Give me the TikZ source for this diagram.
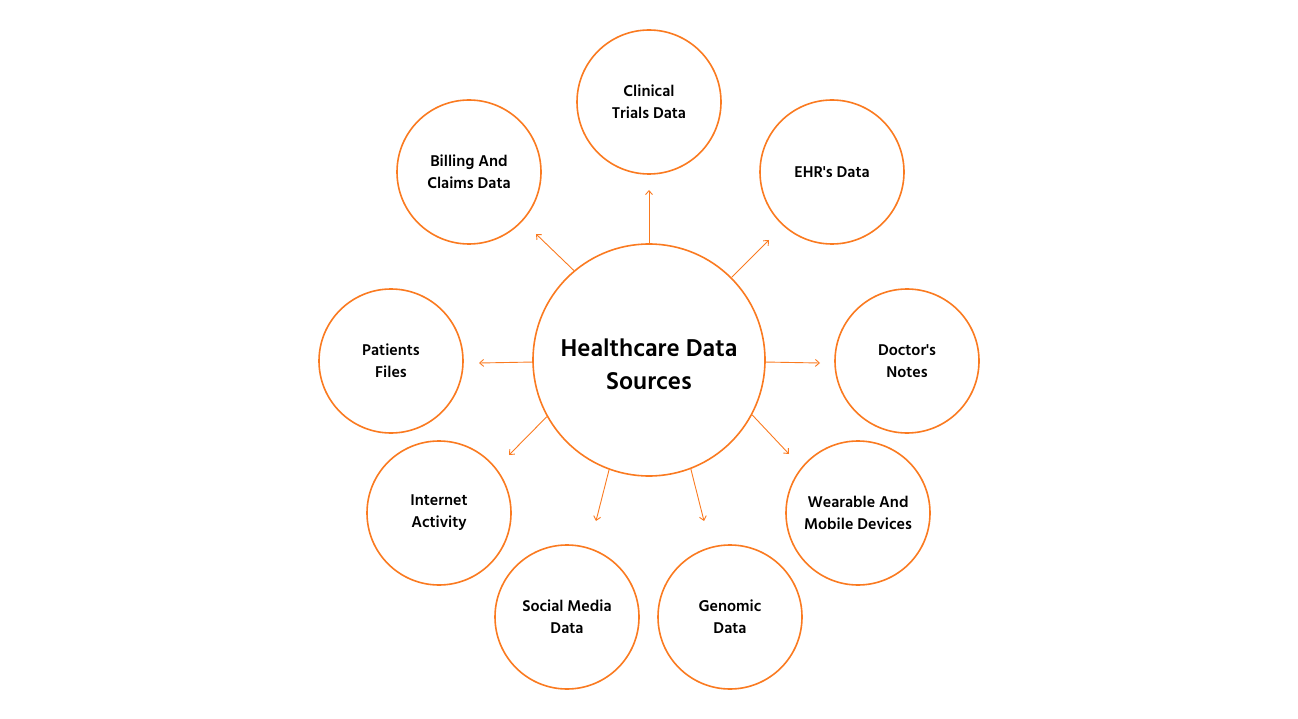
\documentclass[tikz,border=0pt]{standalone}
\usepackage{fontspec}
\setmainfont{Hind Siliguri}[BoldFont={* SemiBold}, Ligatures=TeXOff]
\usepackage{tikz}
\usetikzlibrary{arrows.meta,positioning,calc}

\definecolor{hcorange}{RGB}{250,122,32}

\tikzset{
    src/.style={circle, draw=hcorange, line width=1.6pt, minimum size=144pt, inner sep=0pt,
        align=center, font=\fontsize{16}{22}\selectfont\bfseries},
    hub/.style={circle, draw=hcorange, line width=1.6pt, minimum size=232pt, inner sep=0pt,
        align=center, font=\fontsize{25}{33}\selectfont\bfseries},
    arr/.style={draw=hcorange, line width=0.9pt, -{Straight Barb[length=4pt,width=7pt]}}
}

\begin{document}
\begin{tikzpicture}[x=1pt,y=-1pt]
    \useasboundingbox (0,0) rectangle (1298,719);

    % Hub
    \node[hub] (hub) at (649,360) {\raisebox{-13pt}[0pt][0pt]{\begin{tabular}{@{}c@{}}Healthcare Data\\Sources\end{tabular}}};

    % Sources
    \node[src] (clinical) at (649,102) {Clinical\\Trials Data};
    \node[src] (ehr) at (832,172) {EHR's Data};
    \node[src] (doctor) at (907,361) {Doctor's\\Notes};
    \node[src] (wearable) at (858,513) {Wearable And\\Mobile Devices};
    \node[src] (genomic) at (730,617) {Genomic\\Data};
    \node[src] (social) at (567,617) {Social Media\\Data};
    \node[src] (internet) at (439,513) {Internet\\Activity};
    \node[src] (patients) at (391,361) {Patients\\Files};
    \node[src] (billing) at (469,172) {Billing And\\Claims Data};

    % Arrow tips
    \coordinate (tclinical) at (649,190);
    \coordinate (tehr) at (769,240);
    \coordinate (tdoctor) at (820,363);
    \coordinate (twearable) at (789,454);
    \coordinate (tgenomic) at (704,521);
    \coordinate (tsocial) at (596,521);
    \coordinate (tinternet) at (509,455);
    \coordinate (tpatients) at (479,363);
    \coordinate (tbilling) at (536,234);

    % Arrows
    \draw[arr] (hub.90) -- (tclinical);
    \draw[arr] (hub.45.5) -- (tehr);
    \draw[arr] (hub.-1.5) -- (tdoctor);
    \draw[arr] (hub.-28.5) -- (twearable);
    \draw[arr] (hub.-69.6) -- (tgenomic);
    \draw[arr] (hub.-110.4) -- (tsocial);
    \draw[arr] (hub.209.4) -- (tinternet);
    \draw[arr] (hub.181.5) -- (tpatients);
    \draw[arr] (hub.130.5) -- (tbilling);
\end{tikzpicture}
\end{document}
